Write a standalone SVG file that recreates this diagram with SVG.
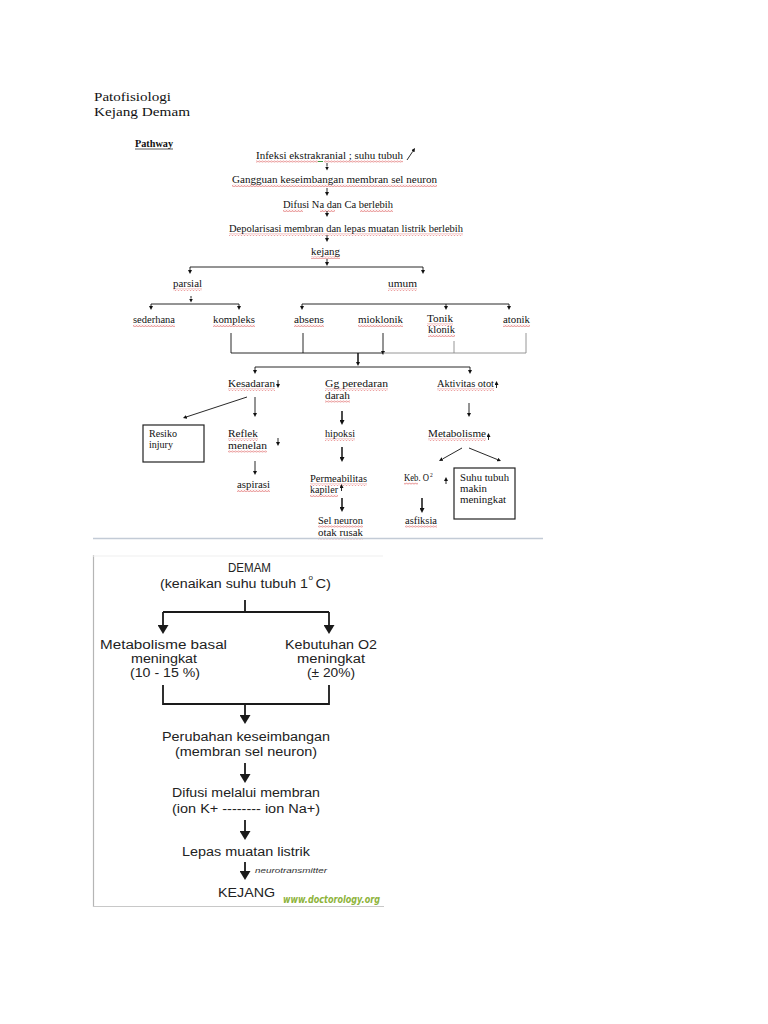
<svg xmlns="http://www.w3.org/2000/svg" width="768" height="1024" viewBox="0 0 768 1024">
<style>
.t{font-family:"Liberation Serif","Times New Roman",serif;font-size:9.5px;fill:#111}
.h{font-family:"Liberation Serif","Times New Roman",serif;font-size:13px;fill:#111}
.b{font-family:"Liberation Sans",Arial,sans-serif;font-size:12.5px;fill:#222}
.ln{stroke:#111;stroke-width:0.9;fill:none}
.lg{stroke:#8a8a8a;stroke-width:0.9;fill:none}
.lb{stroke:#111;stroke-width:1.5;fill:none}
.bl{stroke:#1a1a1a;stroke-width:1.8;fill:none}
.sa{marker-end:url(#sa)}
.sb{marker-end:url(#sb)}
.ba{marker-end:url(#ba)}
.sq{fill:url(#squig)}
.box{fill:#fff;stroke:#222;stroke-width:1.2}
</style>
<defs>
<marker id="sa" markerUnits="userSpaceOnUse" viewBox="0 0 10 10" preserveAspectRatio="none" markerWidth="4" markerHeight="4" refX="0" refY="5" orient="auto"><path d="M0,0 L10,5 L0,10 z" fill="#111"/></marker>
<marker id="sb" markerUnits="userSpaceOnUse" viewBox="0 0 10 10" preserveAspectRatio="none" markerWidth="5" markerHeight="5" refX="0" refY="5" orient="auto"><path d="M0,0 L10,5 L0,10 z" fill="#111"/></marker>
<marker id="ba" markerUnits="userSpaceOnUse" viewBox="0 0 10 10" preserveAspectRatio="none" markerWidth="9" markerHeight="11" refX="0" refY="5" orient="auto"><path d="M0,0 L10,5 L0,10 z" fill="#1a1a1a"/></marker>
<pattern id="squig" patternUnits="userSpaceOnUse" width="3" height="2.5"><path d="M0,2 L1.5,0.5 L3,2" stroke="#d43a3a" stroke-width="0.7" fill="none"/></pattern>
</defs>
<rect width="768" height="1024" fill="#fff"/>

<g id="title">
<text class="h" x="94" y="101" textLength="77" lengthAdjust="spacingAndGlyphs">Patofisiologi</text>
<text class="h" x="94" y="116" textLength="96" lengthAdjust="spacingAndGlyphs">Kejang Demam</text>
</g>

<g id="pathway-label">
<text class="t" x="135" y="147" font-weight="bold" textLength="38" lengthAdjust="spacingAndGlyphs">Pathway</text>
<line x1="135" y1="149" x2="173" y2="149" stroke="#111" stroke-width="0.7"/>
</g>

<g id="spellcheck">
<rect class="sq" x="256" y="160.5" width="62" height="2.5"/>
<rect class="sq" x="324" y="160.5" width="79" height="2.5"/>
<rect x="318" y="161" width="5" height="1" fill="#3a9a3a"/>
<rect class="sq" x="232" y="184.5" width="205" height="2.5"/>
<rect class="sq" x="283" y="209.5" width="20" height="2.5"/>
<rect class="sq" x="320" y="209.5" width="15" height="2.5"/>
<rect class="sq" x="360" y="209.5" width="33" height="2.5"/>
<rect class="sq" x="229" y="233.5" width="234" height="2.5"/>
<rect class="sq" x="311" y="256.5" width="29" height="2.5"/>
<rect class="sq" x="173" y="288.5" width="29" height="2.5"/>
<rect class="sq" x="388" y="288.5" width="29" height="2.5"/>
<rect class="sq" x="133" y="324.5" width="42" height="2.5"/>
<rect class="sq" x="213" y="324.5" width="42" height="2.5"/>
<rect class="sq" x="294" y="324.5" width="30" height="2.5"/>
<rect class="sq" x="358" y="324.5" width="45" height="2.5"/>
<rect class="sq" x="427" y="323.5" width="26" height="2.5"/>
<rect class="sq" x="428" y="334.5" width="27" height="2.5"/>
<rect class="sq" x="503" y="324.5" width="27" height="2.5"/>
<rect class="sq" x="228" y="388.5" width="47" height="2.5"/>
<rect class="sq" x="325" y="388.5" width="63" height="2.5"/>
<rect class="sq" x="325" y="400.5" width="25" height="2.5"/>
<rect class="sq" x="437" y="388.5" width="57" height="2.5"/>
<rect class="sq" x="149" y="438.5" width="28" height="2.5"/>
<rect class="sq" x="149" y="449.5" width="24" height="2.5"/>
<rect class="sq" x="228" y="438.5" width="30" height="2.5"/>
<rect class="sq" x="228" y="450.5" width="39" height="2.5"/>
<rect class="sq" x="325" y="438.5" width="30" height="2.5"/>
<rect class="sq" x="428" y="438.5" width="58" height="2.5"/>
<rect class="sq" x="237" y="489.5" width="33" height="2.5"/>
<rect class="sq" x="310" y="483.5" width="57" height="2.5"/>
<rect class="sq" x="310" y="494.5" width="28" height="2.5"/>
<rect class="sq" x="404" y="482.5" width="14" height="2.5"/>
<rect class="sq" x="460" y="482.5" width="49" height="2.5"/>
<rect class="sq" x="460" y="493.5" width="27" height="2.5"/>
<rect class="sq" x="460" y="504.5" width="46" height="2.5"/>
<rect class="sq" x="318" y="525.5" width="45" height="2.5"/>
<rect class="sq" x="318" y="537.5" width="45" height="2.5"/>
<rect class="sq" x="405" y="525.5" width="32" height="2.5"/>
</g>

<g id="n-infeksi"><text class="t" x="256" y="159" textLength="147" lengthAdjust="spacingAndGlyphs">Infeksi ekstrakranial ; suhu tubuh</text></g>
<g id="n-gangguan"><text class="t" x="232" y="183" textLength="205" lengthAdjust="spacingAndGlyphs">Gangguan keseimbangan membran sel neuron</text></g>
<g id="n-difusi"><text class="t" x="283" y="208" textLength="110" lengthAdjust="spacingAndGlyphs">Difusi Na dan Ca berlebih</text></g>
<g id="n-depolarisasi"><text class="t" x="229" y="232" textLength="234" lengthAdjust="spacingAndGlyphs">Depolarisasi membran dan lepas muatan listrik berlebih</text></g>
<g id="n-kejang"><text class="t" x="311" y="255" textLength="29" lengthAdjust="spacingAndGlyphs">kejang</text></g>
<g id="n-parsial"><text class="t" x="173" y="287" textLength="29" lengthAdjust="spacingAndGlyphs">parsial</text></g>
<g id="n-umum"><text class="t" x="388" y="287" textLength="29" lengthAdjust="spacingAndGlyphs">umum</text></g>
<g id="n-sederhana"><text class="t" x="133" y="323" textLength="42" lengthAdjust="spacingAndGlyphs">sederhana</text></g>
<g id="n-kompleks"><text class="t" x="213" y="323" textLength="42" lengthAdjust="spacingAndGlyphs">kompleks</text></g>
<g id="n-absens"><text class="t" x="294" y="323" textLength="30" lengthAdjust="spacingAndGlyphs">absens</text></g>
<g id="n-mioklonik"><text class="t" x="358" y="323" textLength="45" lengthAdjust="spacingAndGlyphs">mioklonik</text></g>
<g id="n-tonik"><text class="t" x="427" y="322" textLength="26" lengthAdjust="spacingAndGlyphs">Tonik</text><text class="t" x="428" y="333" textLength="27" lengthAdjust="spacingAndGlyphs">klonik</text></g>
<g id="n-atonik"><text class="t" x="503" y="323" textLength="27" lengthAdjust="spacingAndGlyphs">atonik</text></g>
<g id="n-kesadaran"><text class="t" x="228" y="387" textLength="47" lengthAdjust="spacingAndGlyphs">Kesadaran</text></g>
<g id="n-ggperedaran"><text class="t" x="325" y="387" textLength="63" lengthAdjust="spacingAndGlyphs">Gg peredaran</text><text class="t" x="325" y="399" textLength="25" lengthAdjust="spacingAndGlyphs">darah</text></g>
<g id="n-aktivitas"><text class="t" x="437" y="387" textLength="57" lengthAdjust="spacingAndGlyphs">Aktivitas otot</text></g>
<g id="n-resiko"><rect class="box" x="143" y="425" width="61" height="37"/><text class="t" x="149" y="437" textLength="28" lengthAdjust="spacingAndGlyphs">Resiko</text><text class="t" x="149" y="448" textLength="24" lengthAdjust="spacingAndGlyphs">injury</text></g>
<g id="n-reflek"><text class="t" x="228" y="437" textLength="30" lengthAdjust="spacingAndGlyphs">Reflek</text><text class="t" x="228" y="449" textLength="39" lengthAdjust="spacingAndGlyphs">menelan</text></g>
<g id="n-aspirasi"><text class="t" x="237" y="488" textLength="33" lengthAdjust="spacingAndGlyphs">aspirasi</text></g>
<g id="n-hipoksi"><text class="t" x="325" y="437" textLength="30" lengthAdjust="spacingAndGlyphs">hipoksi</text></g>
<g id="n-permeabilitas"><text class="t" x="310" y="482" textLength="57" lengthAdjust="spacingAndGlyphs">Permeabilitas</text><text class="t" x="310" y="493" textLength="28" lengthAdjust="spacingAndGlyphs">kapiler</text></g>
<g id="n-selneuron"><text class="t" x="318" y="524" textLength="45" lengthAdjust="spacingAndGlyphs">Sel neuron</text><text class="t" x="318" y="536" textLength="45" lengthAdjust="spacingAndGlyphs">otak rusak</text></g>
<g id="n-metabolisme"><text class="t" x="428" y="437" textLength="58" lengthAdjust="spacingAndGlyphs">Metabolisme</text></g>
<g id="n-kebo2"><text class="t" x="404" y="481" textLength="25" lengthAdjust="spacingAndGlyphs">Keb. O</text><text class="t" x="430" y="477" style="font-size:5.5px">2</text></g>
<g id="n-suhu"><rect class="box" x="454" y="468" width="61" height="51"/><text class="t" x="460" y="481" textLength="49" lengthAdjust="spacingAndGlyphs">Suhu tubuh</text><text class="t" x="460" y="492" textLength="27" lengthAdjust="spacingAndGlyphs">makin</text><text class="t" x="460" y="503" textLength="46" lengthAdjust="spacingAndGlyphs">meningkat</text></g>
<g id="n-asfiksia"><text class="t" x="405" y="524" textLength="32" lengthAdjust="spacingAndGlyphs">asfiksia</text></g>

<g id="connectors-top">
<path class="ln sa" d="M407,160 L412.8,151.3"/>
<path class="ln sa" d="M327,163 V166.5"/>
<path class="ln sa" d="M327,188 V192"/>
<path class="ln sa" d="M327,211 V213"/>
<path class="ln sa" d="M327,235 V238"/>
<path class="ln sa" d="M327,259 V262"/>
<path class="ln" d="M190,267 H423"/>
<path class="ln sa" d="M190,267 V270"/>
<path class="ln sa" d="M423,267 V270"/>
<path class="ln sa" d="M191,296 V298.5"/>
<path class="ln" d="M151,304 H239"/>
<path class="ln sa" d="M151,304 V306"/>
<path class="ln sa" d="M239,304 V306"/>
<path class="ln" d="M302,304 H509"/>
<path class="ln sa" d="M302,304 V306"/>
<path class="ln sa" d="M446,304 V306"/>
<path class="ln sa" d="M509,304 V306"/>
<path class="ln" d="M231,333 V353"/>
<path class="ln" d="M303,333 V353"/>
<path class="ln sa" d="M383,333 V351"/>
<path class="lg" d="M454,341 V353"/>
<path class="lg" d="M526,333 V353"/>
<path class="ln" d="M231,353 H383"/>
<path class="lg" d="M383,353 H526"/>
<path class="lb sa" d="M358,353 V362"/>
<path class="ln" d="M255,367 H470"/>
<path class="ln sa" d="M255,367 V370"/>
<path class="ln sa" d="M470,367 V370"/>
<path class="ln sa" d="M278,380 V384"/>
<path class="ln sa" d="M496.5,388 V385"/>
<path class="ln sa" d="M247,397 L186.8,416.8"/>
<path class="ln sa" d="M255,397 V413"/>
<path class="ln sa" d="M278,438 V442"/>
<path class="ln sa" d="M255,461 V471"/>
<path class="lb sb" d="M342,411 V420"/>
<path class="lb sb" d="M342,447 V457"/>
<path class="ln sa" d="M341.5,491 V488"/>
<path class="lb sb" d="M342,498 V507"/>
<path class="ln sa" d="M469,403 V413"/>
<path class="ln sa" d="M488.5,440 V437"/>
<path class="ln sa" d="M462,448 L442.5,459"/>
<path class="ln sa" d="M469,448 L497.3,459.5"/>
<path class="ln sa" d="M446,484 V481"/>
<path class="lb sb" d="M422,498 V508"/>
</g>

<g id="separator">
<line x1="93" y1="538.5" x2="543" y2="538.5" stroke="#c3cbd6" stroke-width="1.5"/>
</g>

<g id="frame">
<line x1="93.5" y1="555" x2="93.5" y2="907" stroke="#b5b5b5" stroke-width="1.2"/>
<line x1="93" y1="906.5" x2="384" y2="906.5" stroke="#c8c8c8" stroke-width="1"/>
<line x1="93" y1="556" x2="383" y2="556" stroke="#efefef" stroke-width="1"/>
</g>

<g id="b-demam">
<text class="b" x="228" y="572" textLength="43" lengthAdjust="spacingAndGlyphs">DEMAM</text>
<text class="b" x="160" y="588" textLength="148" lengthAdjust="spacingAndGlyphs">(kenaikan suhu tubuh 1</text>
<text class="b" x="308.5" y="580" style="font-size:8px">o</text>
<text class="b" x="315.5" y="588" textLength="15.5" lengthAdjust="spacingAndGlyphs">C)</text>
</g>
<g id="b-metabolisme">
<text class="b" x="100" y="649" textLength="127" lengthAdjust="spacingAndGlyphs">Metabolisme basal</text>
<text class="b" x="131" y="663" textLength="66" lengthAdjust="spacingAndGlyphs">meningkat</text>
<text class="b" x="130" y="677" textLength="70" lengthAdjust="spacingAndGlyphs">(10 - 15 %)</text>
</g>
<g id="b-kebutuhan">
<text class="b" x="285" y="649" textLength="92" lengthAdjust="spacingAndGlyphs">Kebutuhan O2</text>
<text class="b" x="297" y="663" textLength="68" lengthAdjust="spacingAndGlyphs">meningkat</text>
<text class="b" x="307" y="677" textLength="48" lengthAdjust="spacingAndGlyphs">(± 20%)</text>
</g>
<g id="b-perubahan">
<text class="b" x="162" y="741" textLength="168" lengthAdjust="spacingAndGlyphs">Perubahan keseimbangan</text>
<text class="b" x="175" y="756" textLength="142" lengthAdjust="spacingAndGlyphs">(membran sel neuron)</text>
</g>
<g id="b-difusi">
<text class="b" x="172" y="797" textLength="148" lengthAdjust="spacingAndGlyphs">Difusi melalui membran</text>
<text class="b" x="172" y="813" textLength="148" lengthAdjust="spacingAndGlyphs">(ion K+ -------- ion Na+)</text>
</g>
<g id="b-lepas">
<text class="b" x="182" y="856" textLength="128" lengthAdjust="spacingAndGlyphs">Lepas muatan listrik</text>
</g>
<g id="b-kejang">
<text class="b" x="218" y="897" textLength="57" lengthAdjust="spacingAndGlyphs">KEJANG</text>
</g>
<g id="b-watermark">
<text x="283" y="903" font-family="'DejaVu Sans',sans-serif" font-size="10" font-style="italic" font-weight="bold" fill="#8db33a" textLength="97" lengthAdjust="spacingAndGlyphs">www.doctorology.org</text>
</g>

<g id="connectors-bottom">
<path class="bl" d="M245,600 V612 M163,612 H329"/>
<path class="bl ba" d="M163,612 V625"/>
<path class="bl ba" d="M329,612 V625"/>
<path class="bl" d="M163,685 V704 H329 V685"/>
<path class="bl ba" d="M245,704 V715"/>
<path class="bl ba" d="M245,763 V774"/>
<path class="bl ba" d="M245,820 V831"/>
<path class="bl ba" d="M245,862 V871"/>
<text x="255" y="873" font-family="'Liberation Sans',Arial,sans-serif" font-size="7" font-style="italic" fill="#333" textLength="72" lengthAdjust="spacingAndGlyphs">neurotransmitter</text>
</g>
</svg>
